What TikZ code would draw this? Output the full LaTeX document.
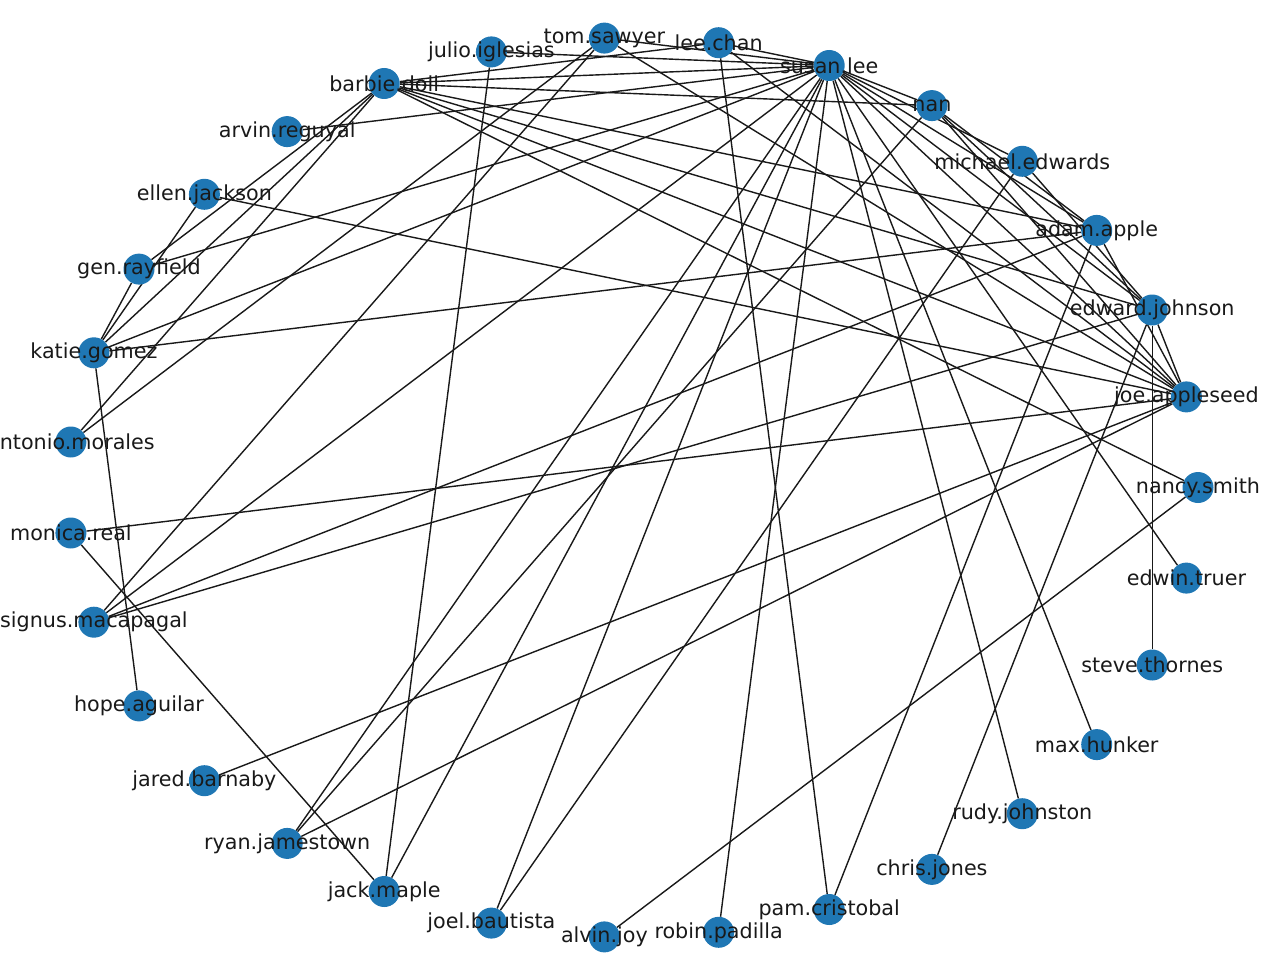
\documentclass[tikz,border=0pt]{standalone}
\usepackage{fontspec}
\setmainfont{DejaVu Sans}
\usepackage{xcolor}
\usetikzlibrary{backgrounds}
\definecolor{nodeblue}{HTML}{1F77B4}

\begin{document}
\begin{tikzpicture}[x=1pt,y=1pt,line join=round,
  vertex/.style={circle,fill=nodeblue,draw=none,minimum size=31pt,inner sep=0pt},
  lbl/.style={font=\fontsize{20.7}{24}\selectfont,text=black!90,inner sep=0pt},
  edge/.style={line width=1.4pt,black!90}]
  \useasboundingbox (0,0) rectangle (1280,-971);
  % people on the ring
  \node[vertex] (nancy) at (1198.0,-487.5) {};
  \node[vertex] (joe) at (1186.4,-396.9) {};
  \node[vertex] (edward) at (1152.2,-310.0) {};
  \node[vertex] (adam) at (1096.7,-230.4) {};
  \node[vertex] (michael) at (1022.3,-161.3) {};
  \node[vertex] (nan) at (931.9,-105.6) {};
  \node[vertex] (susan) at (829.2,-65.5) {};
  \node[vertex] (leechan) at (718.6,-42.7) {};
  \node[vertex] (tom) at (604.4,-38.1) {};
  \node[vertex] (julio) at (491.4,-51.9) {};
  \node[vertex] (barbie) at (384.2,-83.5) {};
  \node[vertex] (arvin) at (287.2,-131.6) {};
  \node[vertex] (ellen) at (204.4,-194.3) {};
  \node[vertex] (gen) at (139.0,-269.1) {};
  \node[vertex] (katie) at (93.9,-352.8) {};
  \node[vertex] (antonio) at (70.9,-442.0) {};
  \node[vertex] (monica) at (70.9,-533.0) {};
  \node[vertex] (signus) at (93.9,-622.2) {};
  \node[vertex] (hope) at (139.0,-705.9) {};
  \node[vertex] (jared) at (204.4,-780.7) {};
  \node[vertex] (ryan) at (287.2,-843.4) {};
  \node[vertex] (jack) at (384.2,-891.5) {};
  \node[vertex] (joel) at (491.4,-923.1) {};
  \node[vertex] (alvin) at (604.4,-936.9) {};
  \node[vertex] (robin) at (718.6,-932.3) {};
  \node[vertex] (pam) at (829.2,-909.5) {};
  \node[vertex] (chris) at (931.9,-869.4) {};
  \node[vertex] (rudy) at (1022.3,-813.7) {};
  \node[vertex] (max) at (1096.7,-744.6) {};
  \node[vertex] (steve) at (1152.2,-665.0) {};
  \node[vertex] (edwin) at (1186.4,-578.1) {};
  % names
  \node[lbl] (nancy-t) at (nancy) {nancy.smith};
  \node[lbl] (joe-t) at (joe) {joe.appleseed};
  \node[lbl] (edward-t) at (edward) {edward.johnson};
  \node[lbl] (adam-t) at (adam) {adam.apple};
  \node[lbl] (michael-t) at (michael) {michael.edwards};
  \node[lbl] (nan-t) at (nan) {nan};
  \node[lbl] (susan-t) at (susan) {susan.lee};
  \node[lbl] (leechan-t) at (leechan) {lee.chan};
  \node[lbl] (tom-t) at (tom) {tom.sawyer};
  \node[lbl] (julio-t) at (julio) {julio.iglesias};
  \node[lbl] (barbie-t) at (barbie) {barbie.doll};
  \node[lbl] (arvin-t) at (arvin) {arvin.reguyal};
  \node[lbl] (ellen-t) at (ellen) {ellen.jackson};
  \node[lbl] (gen-t) at (gen) {gen.rayfield};
  \node[lbl] (katie-t) at (katie) {katie.gomez};
  \node[lbl] (antonio-t) at (antonio) {antonio.morales};
  \node[lbl] (monica-t) at (monica) {monica.real};
  \node[lbl] (signus-t) at (signus) {signus.macapagal};
  \node[lbl] (hope-t) at (hope) {hope.aguilar};
  \node[lbl] (jared-t) at (jared) {jared.barnaby};
  \node[lbl] (ryan-t) at (ryan) {ryan.jamestown};
  \node[lbl] (jack-t) at (jack) {jack.maple};
  \node[lbl] (joel-t) at (joel) {joel.bautista};
  \node[lbl] (alvin-t) at (alvin) {alvin.joy};
  \node[lbl] (robin-t) at (robin) {robin.padilla};
  \node[lbl] (pam-t) at (pam) {pam.cristobal};
  \node[lbl] (chris-t) at (chris) {chris.jones};
  \node[lbl] (rudy-t) at (rudy) {rudy.johnston};
  \node[lbl] (max-t) at (max) {max.hunker};
  \node[lbl] (steve-t) at (steve) {steve.thornes};
  \node[lbl] (edwin-t) at (edwin) {edwin.truer};
  % links
  \begin{scope}[on background layer]
    \draw[edge] (katie) -- (hope);
    \draw[edge] (katie) -- (ellen);
    \draw[edge] (katie) -- (gen);
    \draw[edge] (katie) -- (barbie);
    \draw[edge] (katie) -- (adam);
    \draw[edge] (katie) -- (susan);
    \draw[edge] (gen) -- (barbie);
    \draw[edge] (gen) -- (susan);
    \draw[edge] (ellen) -- (joe);
    \draw[edge] (arvin) -- (susan);
    \draw[edge] (antonio) -- (barbie);
    \draw[edge] (antonio) -- (tom);
    \draw[edge] (monica) -- (joe);
    \draw[edge] (monica) -- (jack);
    \draw[edge] (signus) -- (tom);
    \draw[edge] (signus) -- (susan);
    \draw[edge] (signus) -- (adam);
    \draw[edge] (signus) -- (edward);
    \draw[edge] (jared) -- (joe);
    \draw[edge] (ryan) -- (susan);
    \draw[edge] (ryan) -- (nan);
    \draw[edge] (ryan) -- (joe);
    \draw[edge] (jack) -- (julio);
    \draw[edge] (jack) -- (susan);
    \draw[edge] (joel) -- (susan);
    \draw[edge] (joel) -- (michael);
    \draw[edge] (alvin) -- (nancy);
    \draw[edge] (robin) -- (susan);
    \draw[edge] (pam) -- (leechan);
    \draw[edge] (pam) -- (adam);
    \draw[edge] (chris) -- (edward);
    \draw[edge] (rudy) -- (susan);
    \draw[edge] (max) -- (susan);
    \draw[edge] (steve) -- (edward);
    \draw[edge] (edwin) -- (susan);
    \draw[edge] (nancy) -- (barbie);
    \draw[edge] (susan) -- (tom);
    \draw[edge] (susan) -- (leechan);
    \draw[edge] (susan) -- (nan);
    \draw[edge] (susan) -- (barbie);
    \draw[edge] (susan) -- (julio);
    \draw[edge] (susan) -- (michael);
    \draw[edge] (susan) -- (adam);
    \draw[edge] (susan) -- (edward);
    \draw[edge] (susan) -- (joe);
    \draw[edge] (barbie) -- (nan);
    \draw[edge] (barbie) -- (leechan);
    \draw[edge] (barbie) -- (adam);
    \draw[edge] (barbie) -- (edward);
    \draw[edge] (barbie) -- (joe);
    \draw[edge] (nan) -- (adam);
    \draw[edge] (nan) -- (edward);
    \draw[edge] (nan) -- (joe);
    \draw[edge] (leechan) -- (joe);
    \draw[edge] (tom) -- (joe);
    \draw[edge] (edward) -- (joe);
    \draw[edge] (adam) -- (joe);
    \draw[edge] (michael) -- (edward);
  \end{scope}
\end{tikzpicture}
\end{document}
